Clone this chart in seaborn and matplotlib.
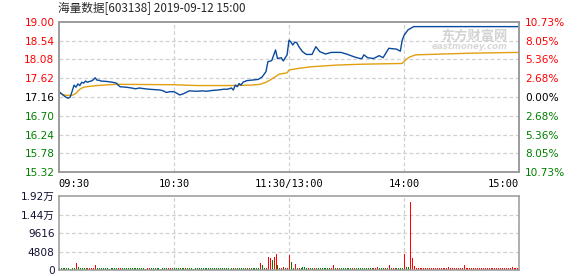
import numpy as np
import pandas as pd
import matplotlib
matplotlib.use("Agg")
import matplotlib.pyplot as plt
import seaborn as sns

# ---- data ----
title = "海量数据[603138] 2019-09-12 15:00"
prev_close = 17.16
price_ticks = [15.32, 15.78, 16.24, 16.70, 17.16, 17.62, 18.08, 18.54, 19.00]
pct_labels = ["10.73%", "8.05%", "5.36%", "2.68%", "0.00%", "2.68%", "5.36%", "8.05%", "10.73%"]
time_labels = ["09:30", "10:30", "11:30/13:00", "14:00", "15:00"]
time_pos = [0, 60, 120, 180, 240]
vol_ticks = [0, 4808, 9616, 14424, 19232]
vol_labels = ["0", "4808", "9616", "1.44万", "1.92万"]

# price line (minute index, price)
price_min = [0, 1, 2, 3, 4, 5, 6, 7, 8, 9, 10, 11, 12, 13, 14, 15, 16, 17, 18, 19,
             20, 21, 22, 25, 28, 30, 31, 32, 35, 38, 40, 42, 45, 47, 50, 53, 55, 56, 58, 60,
             62, 63, 65, 68, 72, 75, 77, 80, 83, 86, 88, 90, 91, 92, 93, 94, 95, 96, 98, 100,
             104, 106, 108, 109, 111, 113, 114, 116, 117, 119, 120, 121, 122, 123, 124, 125, 127, 129, 132, 134,
             136, 139, 142, 147, 150, 154, 157, 158, 159, 161, 164, 167, 169, 172, 176, 178, 179, 180, 182, 185,
             240]
price_val = [17.30, 17.25, 17.22, 17.18, 17.15, 17.13, 17.16, 17.30, 17.45, 17.40, 17.48, 17.44, 17.52, 17.50, 17.55, 17.52, 17.54, 17.55, 17.58, 17.63,
             17.57, 17.57, 17.55, 17.54, 17.52, 17.50, 17.45, 17.41, 17.40, 17.38, 17.36, 17.38, 17.36, 17.35, 17.34, 17.33, 17.30, 17.27, 17.29, 17.29,
             17.24, 17.21, 17.24, 17.31, 17.30, 17.31, 17.30, 17.32, 17.33, 17.35, 17.35, 17.38, 17.33, 17.45, 17.41, 17.49, 17.45, 17.52, 17.56, 17.57,
             17.59, 17.65, 17.78, 18.02, 18.05, 18.31, 18.10, 18.12, 18.04, 18.19, 18.55, 18.50, 18.43, 18.50, 18.49, 18.40, 18.27, 18.20, 18.20, 18.39,
             18.27, 18.21, 18.25, 18.25, 18.21, 18.14, 18.10, 18.10, 18.19, 18.12, 18.10, 18.17, 18.12, 18.35, 18.33, 18.28, 18.55, 18.67, 18.80, 18.88,
             18.88]

# average price line
avg_min = [0, 2, 4, 7, 9, 11, 13, 16, 20, 30, 60, 72, 90, 100, 105, 108, 110, 113, 115, 119,
           120, 125, 132, 145, 157, 179, 181, 183, 186, 214, 240]
avg_val = [17.30, 17.22, 17.20, 17.20, 17.25, 17.35, 17.40, 17.42, 17.44, 17.47, 17.46, 17.44, 17.44, 17.45, 17.47, 17.52, 17.57, 17.66, 17.72, 17.75,
           17.82, 17.86, 17.90, 17.94, 17.96, 17.98, 18.08, 18.14, 18.19, 18.23, 18.25]

# volume per minute (0..240)
volume = [450, 400, 400, 450, 400, 400, 350, 400, 400, 1800, 800, 500, 400, 400, 400, 400, 450, 400, 400, 1300,
          500, 400, 450, 400, 400, 400, 350, 400, 400, 450, 400, 400, 400, 400, 450, 400, 400, 400, 400, 400,
          400, 450, 400, 400, 400, 350, 400, 450, 450, 400, 400, 400, 400, 350, 400, 400, 450, 400, 400, 400,
          400, 400, 400, 400, 450, 400, 400, 400, 400, 400, 350, 400, 400, 400, 400, 450, 400, 400, 400, 400,
          400, 400, 450, 400, 400, 400, 400, 400, 400, 350, 400, 400, 450, 400, 400, 400, 400, 400, 450, 400,
          400, 400, 400, 400, 450, 1800, 1300, 400, 450, 3400, 3100, 2600, 3500, 4200, 1300, 400, 500, 800, 400, 450,
          3900, 2100, 500, 1550, 500, 450, 500, 800, 800, 500, 400, 400, 400, 600, 450, 400, 400, 400, 400, 400,
          400, 400, 450, 1300, 400, 600, 400, 400, 400, 400, 450, 400, 400, 450, 400, 400, 400, 400, 600, 400,
          400, 400, 400, 450, 400, 450, 800, 400, 400, 400, 450, 400, 1300, 400, 600, 450, 400, 400, 400, 400,
          4200, 800, 800, 17800, 3200, 1000, 500, 400, 400, 400, 400, 400, 400, 400, 400, 400, 400, 400, 400, 400,
          400, 400, 400, 800, 400, 400, 400, 400, 400, 400, 400, 1300, 400, 400, 400, 400, 400, 400, 400, 400,
          400, 400, 400, 400, 400, 400, 400, 400, 400, 400, 400, 400, 400, 400, 400, 400, 800, 400, 400, 400,
          500]
# r = up minute, g = down minute
direction = ("gggggggggrgggggrrrrr" "gggggggggggrrggggggg" "ggggggrrgggggggggrrg"
             "ggggggrggggggggggggg" "ggggggggggggrgggggrg" "gggggrggrrrgrrggrrgr"
             "rggrgrggggrggrgggggg" "ggrrgrgggggggrgggggg" "gggrgrrgggrgrgrrgggg"
             "rggrrrrrrrrrrrrrrrrr" "rrrrrrrrrrrrrrrrrrrr" "rrrrrrrrrrrrrrrrrrrr" "r")

RED = "#ff0000"
GREEN = "#008000"
GRID = "#d0d0d0"
EDGE = "#999999"

sns.set_style("white")
plt.rcParams['font.family'] = ['DejaVu Sans', 'Noto Sans CJK SC']

fig = plt.figure(figsize=(5.78, 2.76), dpi=100)
ax1 = fig.add_axes([58.7 / 578, 1 - 172.3 / 276, 460.6 / 578, 150.6 / 276])
ax2 = fig.add_axes([58.7 / 578, 1 - 270 / 276, 460.6 / 578, 73.7 / 276])

price_df = pd.DataFrame({"m": price_min, "p": price_val})
avg_df = pd.DataFrame({"m": avg_min, "p": avg_val})
sns.lineplot(data=avg_df, x="m", y="p", ax=ax1, color="#e0a010", lw=1.0)
sns.lineplot(data=price_df, x="m", y="p", ax=ax1, color="#0a4a9c", lw=1.0)

ax1.set_xlim(0, 240)
ax1.set_ylim(price_ticks[0], price_ticks[-1])
ax1.set_yticks(price_ticks)
ax1.set_yticklabels([f"{t:.2f}" for t in price_ticks])
tick_col = [GREEN] * 4 + ["black"] + [RED] * 4
for lab, c in zip(ax1.get_yticklabels(), tick_col):
    lab.set_color(c)
ax1.set_xticks(time_pos)
ax1.set_xticklabels(time_labels, family="DejaVu Sans Mono")
xl = ax1.get_xticklabels()
xl[0].set_ha("left")
xl[-1].set_ha("right")
ax1.tick_params(axis="x", length=0, pad=5, labelsize=7.5, colors="black")
ax1.tick_params(axis="y", length=0, pad=3, labelsize=7.6)
ax1.set_xlabel("")
ax1.set_ylabel("")

axr = ax1.twinx()
axr.set_ylim(price_ticks[0], price_ticks[-1])
axr.set_yticks(price_ticks)
axr.set_yticklabels(pct_labels)
for lab, c in zip(axr.get_yticklabels(), tick_col):
    lab.set_color(c)
axr.tick_params(axis="y", length=0, pad=4, labelsize=7.6)

# grid
for t in price_ticks[1:-1]:
    ax1.axhline(t, color=GRID, lw=0.9, ls=(0, (3, 2)), zorder=0)
for t in time_pos[1:-1]:
    ax1.axvline(t, color=GRID, lw=0.9, ls=(0, (3, 2)), zorder=0)

# watermark
ax1.text(0.975, 0.955, "东方财富网", transform=ax1.transAxes, ha="right", va="top",
         fontsize=9.5, fontweight="bold", color="#d2d2d2", family="Noto Sans CJK SC", zorder=0)
ax1.text(0.975, 0.865, "eastmoney.com", transform=ax1.transAxes, ha="right", va="top",
         fontsize=6.2, fontweight="bold", style="italic", color="#d8d8d8", zorder=0)

# volume
bar_cols = [RED if d == "r" else GREEN for d in direction]
ax2.vlines(range(len(volume)), 0, volume, colors=bar_cols, linewidth=0.72, antialiased=False)
ax2.set_xlim(0, 240)
ax2.set_ylim(0, vol_ticks[-1])
ax2.set_yticks(vol_ticks)
ax2.set_yticklabels(vol_labels)
ax2.set_xticks([])
ax2.tick_params(axis="y", length=0, pad=3, labelsize=7.6, colors="#111133")
for t in vol_ticks[1:-1]:
    ax2.axhline(t, color=GRID, lw=0.9, ls=(0, (3, 2)), zorder=0)
for t in time_pos[1:-1]:
    ax2.axvline(t, color=GRID, lw=0.9, ls=(0, (3, 2)), zorder=0)

for a in (ax1, axr, ax2):
    for s in a.spines.values():
        s.set_color(EDGE)
        s.set_linewidth(1.1)

fig.text(58 / 578, 1 - 9 / 276, title, ha="left", va="center", fontsize=8.4,
         family=["Noto Sans CJK SC", "DejaVu Sans"])

fig.savefig("out.png", dpi=100)
